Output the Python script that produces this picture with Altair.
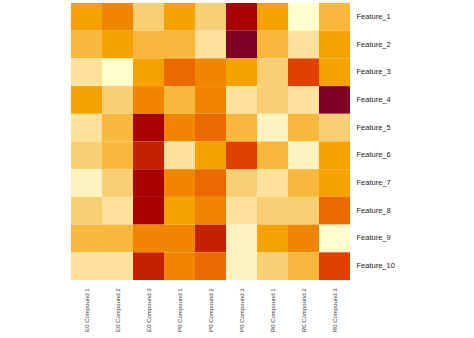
import altair as alt
import pandas as pd

features = [f"Feature_{i}" for i in range(1, 11)]
samples = ["E0 Compound 1", "E0 Compound 2", "E0 Compound 3",
           "P0 Compound 1", "P0 Compound 2", "P0 Compound 3",
           "R0 Compound 1", "R0 Compound 2", "R0 Compound 3"]

# colour level (1 = lightest, 12 = darkest) read per cell, row by row
levels = [
    [6, 7, 4, 6, 4, 11, 6, 1, 5],
    [5, 6, 5, 5, 3, 12, 5, 3, 6],
    [3, 1, 6, 8, 7, 6, 4, 9, 6],
    [6, 4, 7, 5, 7, 3, 4, 3, 12],
    [3, 5, 11, 7, 8, 5, 2, 5, 4],
    [4, 5, 10, 3, 6, 9, 5, 2, 6],
    [2, 4, 11, 7, 8, 4, 3, 5, 6],
    [4, 3, 11, 6, 7, 3, 4, 4, 8],
    [5, 5, 7, 7, 10, 2, 6, 7, 1],
    [3, 3, 10, 7, 8, 2, 4, 5, 9],
]

palette = ["#FFFFCC", "#FEF3C0", "#FCE29C", "#F8CF74", "#F7B83C", "#F5A200",
           "#F08600", "#EB6A00", "#E24000", "#C42200", "#A80000", "#800026"]

rows = []
for fi, f in enumerate(features):
    for si, s in enumerate(samples):
        rows.append({"feature": f, "sample": s, "level": levels[fi][si]})
df = pd.DataFrame(rows)

chart = alt.Chart(df).mark_rect().encode(
    x=alt.X("sample:N", sort=samples, title=None,
            axis=alt.Axis(labelAngle=270, ticks=False, domain=False,
                          labelPadding=8, labelFontSize=6, labelColor="#333333",
                          labelFont="Liberation Sans")),
    y=alt.Y("feature:N", sort=features, title=None,
            axis=alt.Axis(orient="right", ticks=False, domain=False,
                          labelPadding=6, labelFontSize=7.5, labelColor="#222222",
                          labelFont="Liberation Sans")),
    color=alt.Color("level:O", legend=None,
                    scale=alt.Scale(domain=list(range(1, 13)), range=palette)),
).properties(
    width=279, height=277,
    padding={"left": 71, "top": 3, "right": 0, "bottom": 0},
).configure_view(stroke=None).configure_scale(bandPaddingInner=0, bandPaddingOuter=0)

chart.save("out.html", embed_options={"renderer": "svg", "actions": False})
